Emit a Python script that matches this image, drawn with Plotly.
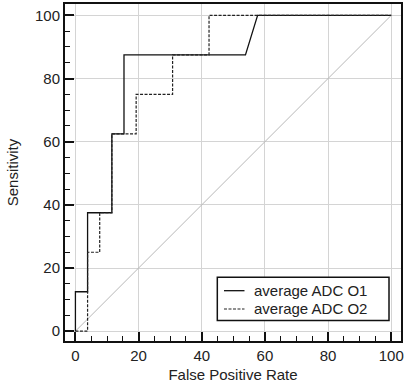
import plotly.graph_objects as go

# ROC data (percent)
fpr_o1 = [0, 0, 3.85, 3.85, 11.54, 11.54, 15.38, 15.38, 53.85, 57.69, 100]
sens_o1 = [0, 12.5, 12.5, 37.5, 37.5, 62.5, 62.5, 87.5, 87.5, 100, 100]

fpr_o2 = [0, 3.85, 3.85, 7.69, 7.69, 11.54, 11.54, 19.23, 19.23, 30.77, 30.77, 42.31, 42.31, 100]
sens_o2 = [0, 0, 25, 25, 37.5, 37.5, 62.5, 62.5, 75, 75, 87.5, 87.5, 100, 100]

ref_x = [0, 100]
ref_y = [0, 100]

tick_vals = [0, 20, 40, 60, 80, 100]
tick_text = ["0", "20", "40", "60", "80", "100"]

series_names = ["average ADC O1", "average ADC O2"]

FONT = "Arial, Liberation Sans, sans-serif"
line_styles = [dict(color="#111111", width=1.3),
               dict(color="#222222", width=1.2, dash="3px,1.5px")]

fig = go.Figure()
fig.add_trace(go.Scatter(x=ref_x, y=ref_y, mode="lines",
                         line=dict(color="#b8b8b8", width=1),
                         showlegend=False, hoverinfo="skip"))
fig.add_trace(go.Scatter(x=fpr_o1, y=sens_o1, mode="lines", name=series_names[0],
                         line=line_styles[0], showlegend=False))
fig.add_trace(go.Scatter(x=fpr_o2, y=sens_o2, mode="lines", name=series_names[1],
                         line=line_styles[1], showlegend=False))

axis_common = dict(
    tickvals=tick_vals, ticktext=tick_text,
    ticks="inside", ticklen=9, tickwidth=2, tickcolor="#111111",
    showline=True, linecolor="#111111", linewidth=2, mirror=True,
    showgrid=True, gridcolor="#d4d4d4", gridwidth=1,
    zeroline=False, automargin=False,
    tickfont=dict(family=FONT, size=15, color="#222222"),
    minor=dict(dtick=5, ticks="inside", ticklen=5, tickwidth=1,
               tickcolor="#111111", showgrid=False),
)

fig.update_xaxes(range=[-3.3, 103.1],
                 title=dict(text="False Positive Rate", standoff=6,
                            font=dict(family=FONT, size=15, color="#222222")),
                 **axis_common)
fig.update_yaxes(range=[-3.1, 103.6],
                 title=dict(text="Sensitivity", standoff=13,
                            font=dict(family=FONT, size=15, color="#222222")),
                 **axis_common)

# Legend box drawn in paper coordinates (inside plot area)
legend_box = dict(x0=0.4533, x1=0.9643, y0=0.0608, y1=0.189)
row_y = [0.1493, 0.0950]
sample_x = (0.4732, 0.5342)
text_x = 0.5557

shapes = [dict(type="rect", xref="paper", yref="paper",
               x0=legend_box["x0"], x1=legend_box["x1"],
               y0=legend_box["y0"], y1=legend_box["y1"],
               line=dict(color="#111111", width=1.5), fillcolor="white",
               layer="above")]
annotations = []
for name, style, ry in zip(series_names, line_styles, row_y):
    shapes.append(dict(type="line", xref="paper", yref="paper",
                       x0=sample_x[0], x1=sample_x[1], y0=ry, y1=ry,
                       line=style, layer="above"))
    annotations.append(dict(text=name, xref="paper", yref="paper",
                            x=text_x, y=ry, xanchor="left", yanchor="middle",
                            showarrow=False,
                            font=dict(family=FONT, size=15, color="#222222")))

fig.update_layout(
    template="none",
    width=408, height=383,
    margin=dict(l=65, r=7, t=4, b=42, pad=0),
    paper_bgcolor="white", plot_bgcolor="white",
    font=dict(family=FONT, color="#222222"),
    showlegend=False,
    shapes=shapes,
    annotations=annotations,
)

fig.write_html("out.html", config={"displayModeBar": False},
               post_script="document.body.style.margin='0px';")
